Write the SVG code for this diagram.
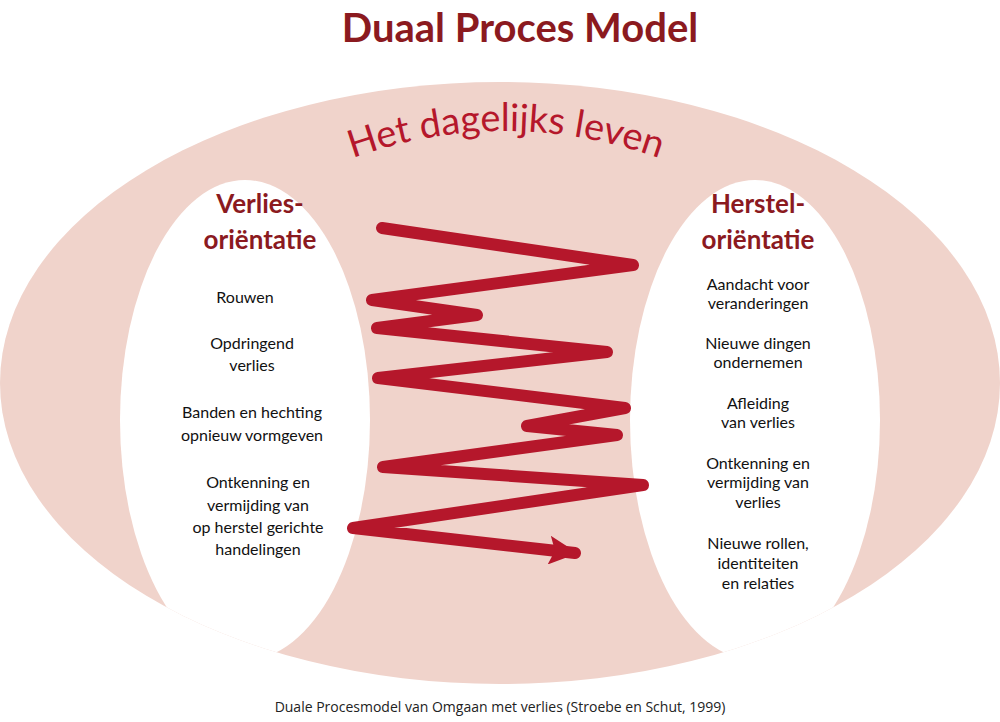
<svg xmlns="http://www.w3.org/2000/svg" width="1000" height="722" viewBox="0 0 1000 722">
<style>
.t{font-family:"Lato","Open Sans",sans-serif;fill:#8b1a1f;font-weight:bold;text-anchor:middle}
.b{font-family:"Lato","Open Sans",sans-serif;fill:#111;font-size:16px;text-anchor:middle}
</style>
<defs>
<path id="arc" d="M322,170 Q505,92 690,170"/>
<clipPath id="oc"><ellipse cx="500" cy="383" rx="500" ry="301"/></clipPath>
<marker id="ah" viewBox="0 0 10 10" refX="9" refY="5" markerWidth="2.6" markerHeight="2.4" orient="auto" markerUnits="strokeWidth"><path d="M0,0 L10,5 L0,10 L2,5 Z" fill="#b5172b"/></marker>
</defs>
<rect width="1000" height="722" fill="#fff"/>
<text class="t" x="520" y="42" font-size="40">Duaal Proces Model</text>
<g id="outer"><ellipse cx="500" cy="383" rx="500" ry="301" fill="#f0d3cb"/></g>
<text font-family="Lato,'Open Sans',sans-serif" font-size="38" fill="#b5172b"><textPath href="#arc" startOffset="50%" text-anchor="middle">Het dagelijks leven</textPath></text>
<g clip-path="url(#oc)">
<g id="verlies">
<ellipse cx="245" cy="420" rx="125" ry="240" fill="#fff"/>
<text class="t" font-size="26" x="260" y="213">Verlies-</text>
<text class="t" font-size="26" x="260" y="249">oriëntatie</text>
<text class="b" x="245" y="303">Rouwen</text>
<text class="b" x="252" y="349">Opdringend</text><text class="b" x="252" y="371">verlies</text>
<text class="b" x="252" y="418">Banden en hechting</text><text class="b" x="252" y="441">opnieuw vormgeven</text>
<text class="b" x="258" y="488">Ontkenning en</text><text class="b" x="258" y="511">vermijding van</text><text class="b" x="258" y="533">op herstel gerichte</text><text class="b" x="258" y="555">handelingen</text>
</g>
<g id="herstel">
<ellipse cx="755" cy="420" rx="125" ry="240" fill="#fff"/>
<text class="t" font-size="26" x="758" y="213">Herstel-</text>
<text class="t" font-size="26" x="758" y="249">oriëntatie</text>
<text class="b" x="758" y="290">Aandacht voor</text><text class="b" x="758" y="309">veranderingen</text>
<text class="b" x="758" y="349">Nieuwe dingen</text><text class="b" x="758" y="368">ondernemen</text>
<text class="b" x="758" y="409">Afleiding</text><text class="b" x="758" y="428">van verlies</text>
<text class="b" x="758" y="469">Ontkenning en</text><text class="b" x="758" y="488">vermijding van</text><text class="b" x="758" y="508">verlies</text>
<text class="b" x="758" y="549">Nieuwe rollen,</text><text class="b" x="758" y="569">identiteiten</text><text class="b" x="758" y="589">en relaties</text>
</g>
</g>
<g id="connectors">
<polyline points="382,228 633,265 372,300 477,315 377,328 607,352 378,378 625,408 527,426 617,435 383,467 643,485 353,528 575,553" fill="none" stroke="#b5172b" stroke-width="12" stroke-linecap="round" stroke-linejoin="round" marker-end="url(#ah)"/>
</g>
<text font-family="'Open Sans',sans-serif" font-size="14" fill="#222" x="500" y="712" text-anchor="middle">Duale Procesmodel van Omgaan met verlies (Stroebe en Schut, 1999)</text>
</svg>
